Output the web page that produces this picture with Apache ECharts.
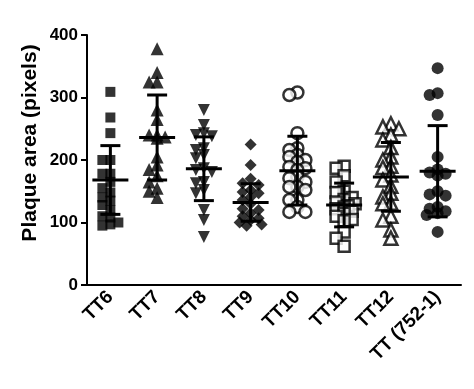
<!DOCTYPE html>
<html><head><meta charset="utf-8">
<script src="https://cdn.jsdelivr.net/npm/echarts@6/dist/echarts.min.js"></script>
<style>html,body{margin:0;padding:0;background:#fff}#c{width:474px;height:389px}</style>
</head><body><div id="c"></div>
<script>
const categories = ['TT6','TT7','TT8','TT9','TT10','TT11','TT12','TT (752-1)'];
const tt6  = [309,268,243,200,200,178,178,165,155,148,140,135,128,120,110,108,100,97,95];
const tt7  = [378,340,325,325,280,265,240,240,237,235,205,192,185,175,165,155,150,140];
const tt8  = [280,256,243,240,238,219,216,208,203,187,184,181,165,163,152,147,120,104,77];
const tt9  = [225,192,170,163,160,152,149,147,141,136,130,122,120,115,110,107,104,100,97,95];
const tt10 = [308,304,243,219,216,208,205,200,197,189,187,184,173,171,165,157,157,152,136,136,125,117,117];
const tt11 = [190,187,175,165,150,148,140,137,133,130,127,125,122,120,118,115,110,105,103,85,75,62];
const tt12 = [258,253,250,240,232,220,205,200,190,188,176,168,158,147,141,131,130,110,104,88,75];
const tt752 = [347,307,304,272,205,185,180,178,175,150,145,143,125,122,118,115,112,85];
const groups = [tt6,tt7,tt8,tt9,tt10,tt11,tt12,tt752];
const means = [168,236,186,132,183,128,173,182];
const sds   = [55,68,51,30,55,35,55,73];
const yMin = 0, yMax = 400, yStep = 100;
const yTitle = 'Plaque area (pixels)';

const downTri = 'path://M0,0 L10,0 L5,9 Z';
const styles = [
  {symbol:'rect', size:10, open:false},
  {symbol:'triangle', size:13, open:false},
  {symbol:downTri, size:12, open:false},
  {symbol:'diamond', size:12, open:false},
  {symbol:'circle', size:12, open:true},
  {symbol:'rect', size:11, open:true},
  {symbol:'triangle', size:13, open:true},
  {symbol:'circle', size:12, open:false}
];

const plotH = 250;
function swarm(vals){
  const placed = [];
  const cands = [0,-8,8,-4,4,-11,11];
  const order = vals.map((v,i)=>i).sort((a,b)=>vals[b]-vals[a]);
  const offs = new Array(vals.length).fill(0);
  order.forEach(i=>{
    const py = vals[i]*plotH/(yMax-yMin);
    for (const dx of cands){
      if (placed.every(p => Math.hypot(p.x-dx, p.y-py) >= 6.5)) {
        offs[i]=dx; placed.push({x:dx,y:py}); return;
      }
    }
    offs[i]=0; placed.push({x:0,y:py});
  });
  return offs;
}

const font = 'Liberation Sans, Arial, Helvetica, sans-serif';
const series = groups.map((vals,gi)=>{
  const offs = swarm(vals);
  const st = styles[gi];
  return {
    type:'scatter',
    symbol: st.symbol,
    symbolSize: st.size,
    itemStyle: st.open ? {color:'#fff', borderColor:'#000', borderWidth:2.5} : {color:'#000'},
    data: vals.map((v,i)=>({value:[gi, v], symbolOffset:[offs[i],0]})),
    z: 2,
    silent:true
  };
});

series.push({
  type:'custom',
  z: 5,
  silent:true,
  data: means.map((m,i)=>[i, m, sds[i]]),
  renderItem: function(params, api){
    const i = api.value(0), m = api.value(1), s = api.value(2);
    const c = api.coord([i, m]);
    const hi = api.coord([i, m+s]);
    const lo = api.coord([i, m-s]);
    const st = {stroke:'#000', lineWidth:3};
    return {type:'group', children:[
      {type:'line', shape:{x1:c[0],y1:hi[1],x2:c[0],y2:lo[1]}, style:st},
      {type:'line', shape:{x1:c[0]-10,y1:hi[1],x2:c[0]+10,y2:hi[1]}, style:st},
      {type:'line', shape:{x1:c[0]-10,y1:lo[1],x2:c[0]+10,y2:lo[1]}, style:st},
      {type:'line', shape:{x1:c[0]-18,y1:c[1],x2:c[0]+18,y2:c[1]}, style:st}
    ]};
  }
});

const chart = echarts.init(document.getElementById('c'), null, {renderer:'canvas'});
chart.setOption({
  animation:false,
  backgroundColor:'#fff',
  grid:{left:87, right:13, top:35, bottom:104, containLabel:false},
  xAxis:{
    type:'category', data:categories, boundaryGap:true,
    axisLine:{lineStyle:{color:'#000', width:2}},
    axisTick:{alignWithLabel:true, length:6, lineStyle:{color:'#000', width:2}},
    axisLabel:{rotate:45, margin:9, color:'#000', fontWeight:'bold', fontSize:19, fontFamily:font, interval:0},
    splitLine:{show:false}
  },
  yAxis:{
    type:'value', min:yMin, max:yMax, interval:yStep,
    axisLine:{show:true, lineStyle:{color:'#000', width:2}},
    axisTick:{show:true, length:6, lineStyle:{color:'#000', width:2}},
    axisLabel:{color:'#000', fontWeight:'bold', fontSize:17, fontFamily:font, margin:9},
    splitLine:{show:false}
  },
  graphic:[{
    type:'text', x:30, y:143, rotation:Math.PI/2,
    style:{text:yTitle, fill:'#000', font:'bold 21px '+font, textAlign:'center', textVerticalAlign:'middle'}
  }],
  series: series
});
</script></body></html>
